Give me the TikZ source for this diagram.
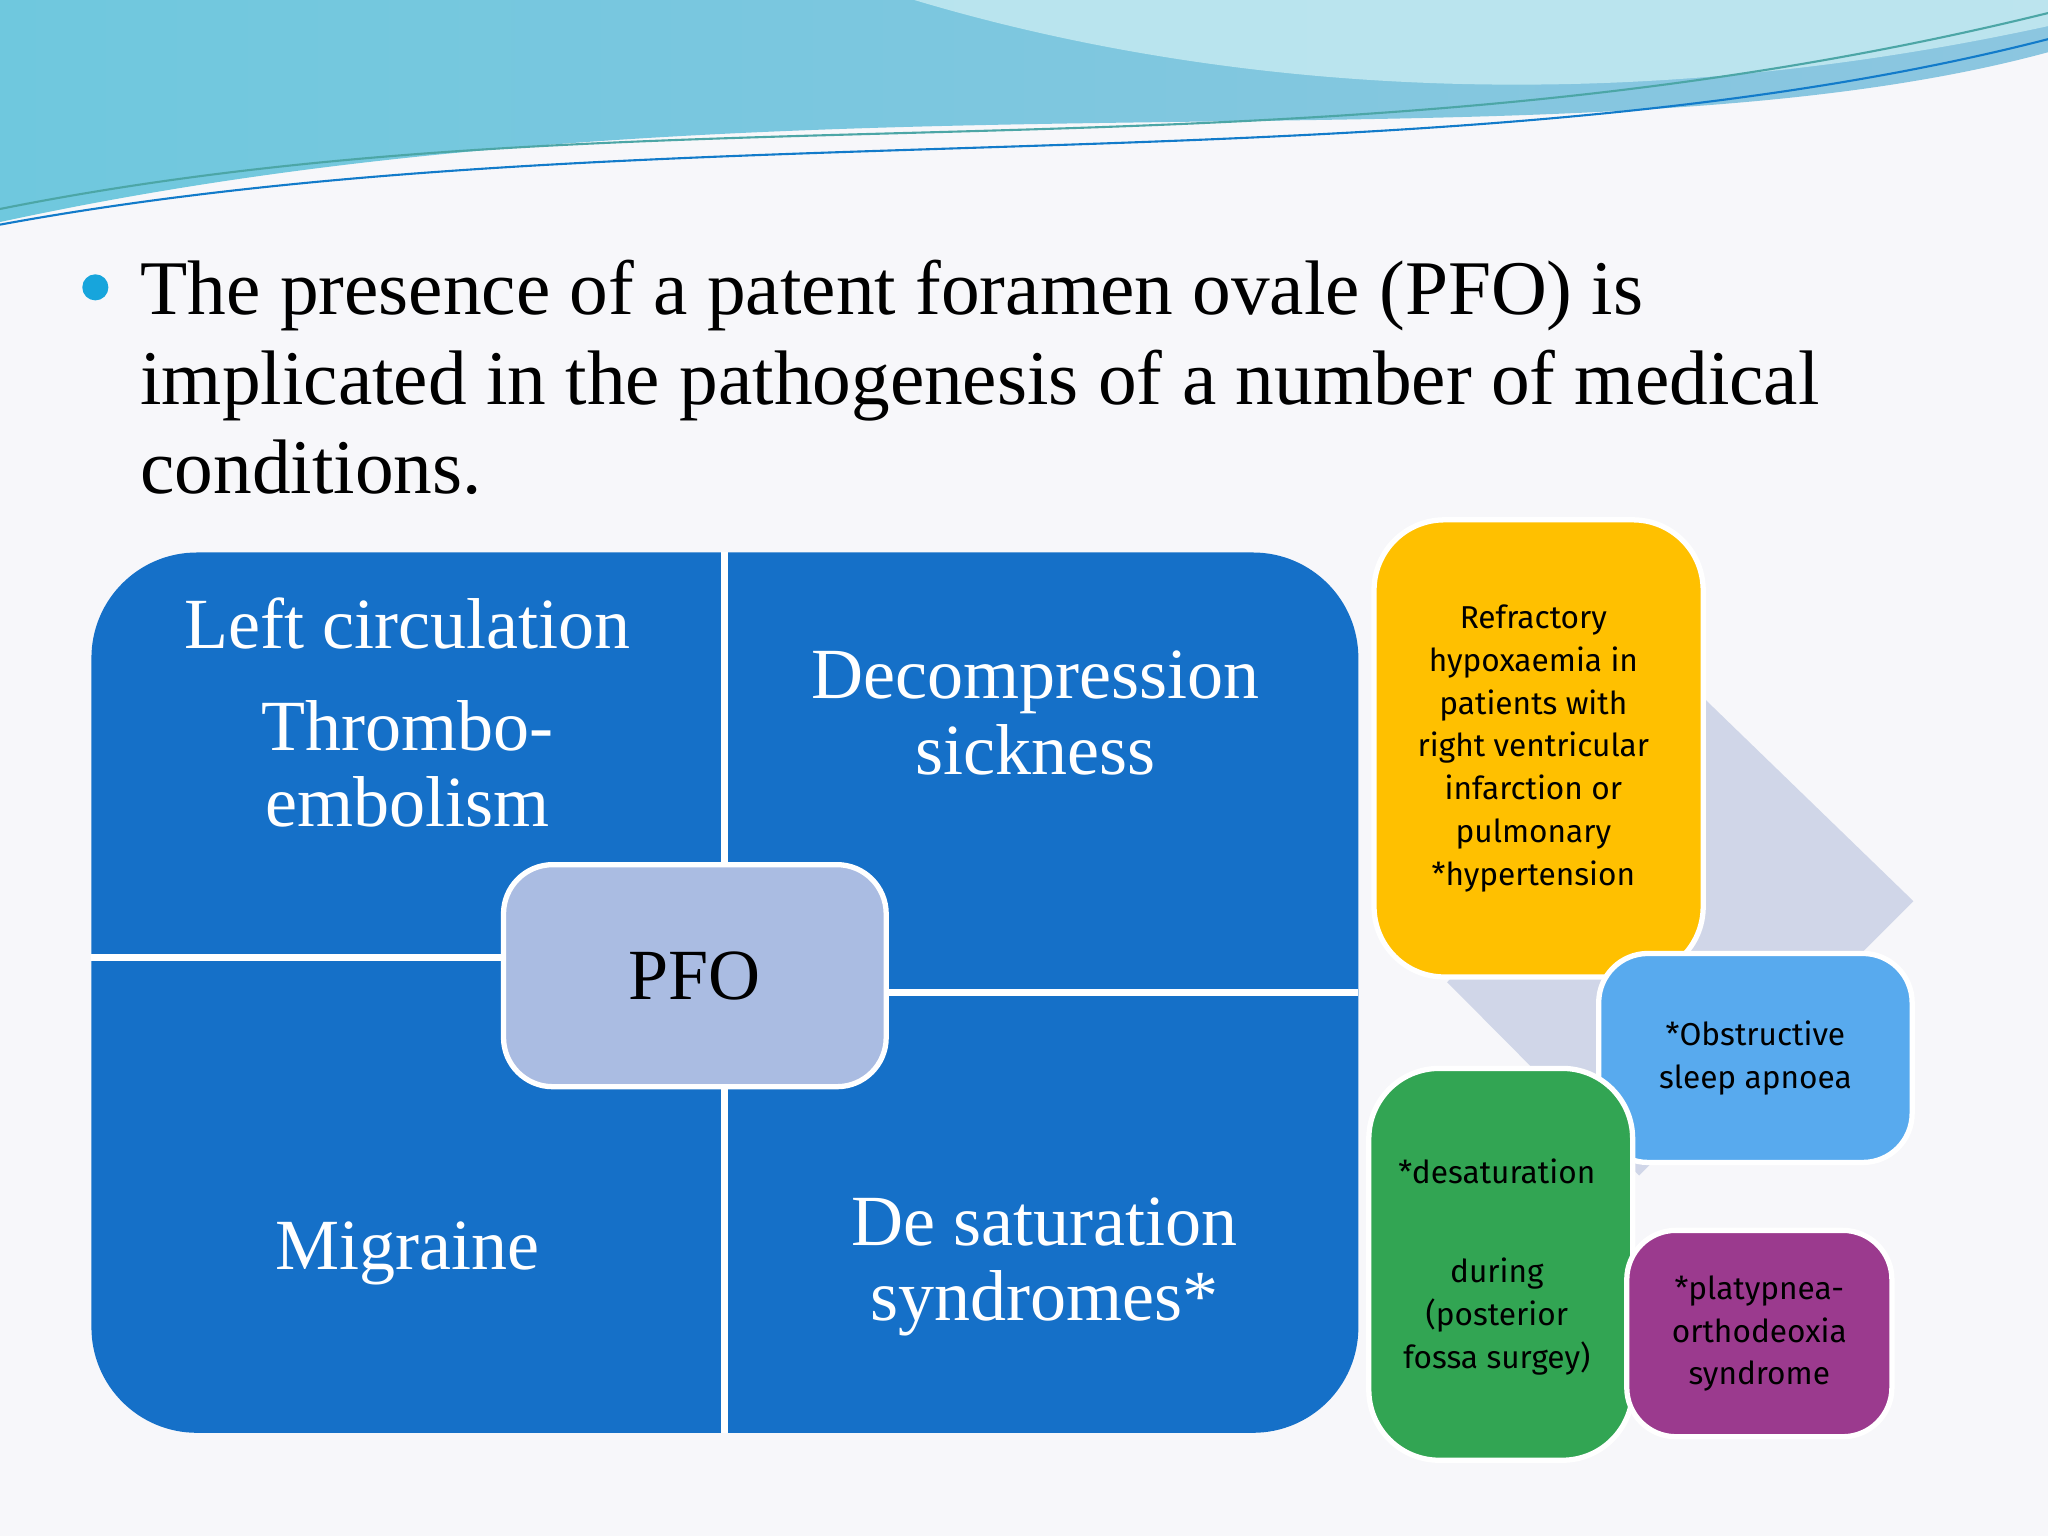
\documentclass[tikz,border=0pt]{standalone}
\usepackage{fontspec}
\setmainfont{Liberation Serif}
\newfontfamily\smallf{Fira Sans}
\begin{document}
\begin{tikzpicture}[x=0.013061cm,y=-0.013061cm,
  big/.style={text=white,font=\fontsize{20.5}{21.5}\selectfont,align=center},
  sm/.style={font=\smallf\fontsize{9}{12.2}\selectfont,align=center},
  card/.style={draw=white,line width=1.5pt,rounded corners=14pt}]
\definecolor{bg}{HTML}{F7F7FA}
\definecolor{mainblue}{HTML}{1570C8}
\definecolor{pfo}{HTML}{AABCE2}
\definecolor{yel}{HTML}{FFC000}
\definecolor{lblue}{HTML}{58AAEE}
\definecolor{grn}{HTML}{32A553}
\definecolor{pur}{HTML}{9B3A8E}
\definecolor{gry}{HTML}{D0D6E8}
\definecolor{waveA}{HTML}{6FC8DE}
\definecolor{waveB}{HTML}{8CC6E0}
\definecolor{waveC}{HTML}{C8ECF2}
\fill[bg] (0,0) rectangle (1568,1176);
\useasboundingbox (0,0) rectangle (1568,1176);
% waves
\shade[left color=waveA, right color=waveB] (0,0) -- (1568,0) -- (1568,40) .. controls (1200,140) and (600,40) .. (0,170) -- cycle;
\fill[waveC,opacity=0.8] (700,0) .. controls (900,60) and (1200,100) .. (1568,20) -- (1568,0) -- cycle;
\fill[bg] (0,175) .. controls (500,50) and (1200,160) .. (1568,45) -- (1568,60) .. controls (1200,170) and (500,70) .. (0,176) -- cycle;
\draw[teal!70,line width=0.6pt] (0,160) .. controls (500,60) and (1000,150) .. (1568,10);
\draw[cyan!60!blue,line width=0.6pt] (0,172) .. controls (500,80) and (1100,150) .. (1568,30);
% title
\fill[cyan!80!teal] (73,220) circle (10);
\node[anchor=base west,inner sep=0,font=\fontsize{22}{26}\selectfont] (t1) at (107,241) {The presence of a patent foramen ovale (PFO) is};
\node[anchor=base west,inner sep=0,font=\fontsize{22}{26}\selectfont] (t2) at (107,310) {implicated in the pathogenesis of a number of medical};
\node[anchor=base west,inner sep=0,font=\fontsize{22}{26}\selectfont] (t3) at (107,378) {conditions.};
% main block
\fill[mainblue,rounded corners=30pt] (70,423) rectangle (1040,1097);
\draw[white,line width=2pt] (555,423) -- (555,1097);
\draw[white,line width=2pt] (70,733) -- (555,733);
\draw[white,line width=2pt] (555,760) -- (1040,760);
\node[card,fill=pfo,minimum width=293*0.013061cm,minimum height=170*0.013061cm,font=\fontsize{20.5}{24}\selectfont] (pfo) at (532,747) {PFO};
\node[big] (lc) at (312,477) {Left circulation};
\node[big] (te) at (312,585) {Thrombo-\\embolism};
\node[big] (ds) at (793,546) {Decompression\\sickness};
\node[big] (mg) at (312,960) {Migraine};
\node[big] (dss) at (800,970) {De saturation\\syndromes*};
% right side
\fill[gry] (1305,535) -- (1465,690) -- (1255,900) -- (1108,752) -- cycle;
\node[card,fill=yel,minimum width=252*0.013061cm,minimum height=350*0.013061cm,rounded corners=20pt] (yb) at (1178,573) {};
\node[sm] at (1174,573) {Refractory\\hypoxaemia in\\patients with\\right ventricular\\infarction or\\pulmonary\\*hypertension};
\node[card,fill=lblue,minimum width=240*0.013061cm,minimum height=160*0.013061cm] (lb) at (1344,810) {};
\node[sm] at (lb) {*Obstructive\\sleep apnoea};
\node[card,fill=grn,minimum width=202*0.013061cm,minimum height=300*0.013061cm,rounded corners=20pt] (gb) at (1149,968) {};
\node[sm] at (1146,897) {*desaturation};
\node[sm] at (1146,1008) {during\\(posterior\\fossa surgey)};
\node[card,fill=pur,minimum width=203*0.013061cm,minimum height=158*0.013061cm] (pb) at (1347,1021) {};
\node[sm] at (pb) {*platypnea-\\orthodeoxia\\syndrome};
\end{tikzpicture}
\end{document}
